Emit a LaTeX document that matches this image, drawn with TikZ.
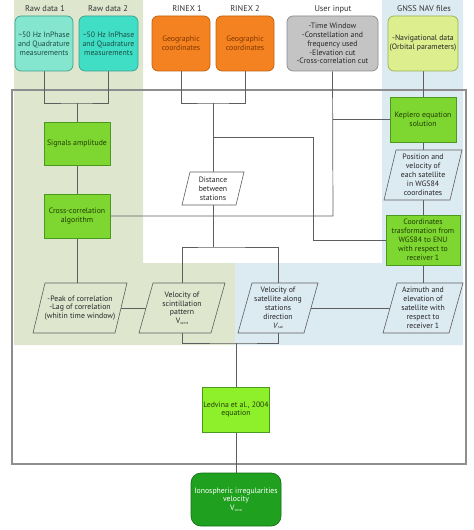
\documentclass[tikz,border=0pt]{standalone}
\usepackage{fontspec}
\setmainfont{PT Sans}
\usetikzlibrary{backgrounds}

\definecolor{greenbg}{HTML}{DFE6CE}
\definecolor{bluebg}{HTML}{DCEAF2}
\definecolor{rawa}{HTML}{84E6CF}
\definecolor{rawb}{HTML}{40DEC4}
\definecolor{rawd}{HTML}{3A9F8C}
\definecolor{rawt}{HTML}{1B4D45}
\definecolor{orf}{HTML}{F58220}
\definecolor{ord}{HTML}{C0600E}
\definecolor{ort}{HTML}{7E3800}
\definecolor{grf}{HTML}{C4C4C4}
\definecolor{grd}{HTML}{8A8A8A}
\definecolor{navf}{HTML}{DCEE8E}
\definecolor{navd}{HTML}{9AB24C}
\definecolor{gbf}{HTML}{7ED630}
\definecolor{gbd}{HTML}{4A9A20}
\definecolor{gbt}{HTML}{1F3D05}
\definecolor{ledf}{HTML}{8EF02A}
\definecolor{ionf}{HTML}{1FA01F}
\definecolor{iond}{HTML}{127012}
\definecolor{conncol}{HTML}{5E5E5E}
\definecolor{framecol}{HTML}{8E8E8E}

\newcommand\fs{\fontsize{7.8}{8.9}\selectfont}
\newcommand\fh{\fontsize{8.4}{10}\selectfont}
\newcommand\sbs[1]{{\fontsize{3.8}{4}\selectfont\raisebox{-0.25ex}{#1}}}

\tikzset{
  conn/.style={draw=conncol, line width=0.7pt},
  head/.style={font=\fh, text=black!80, inner sep=0pt},
  tbox/.style={rounded corners=6bp, line width=0.7pt, align=center, inner sep=1pt,
               minimum height=55bp, font=\fs},
  gbox/.style={draw=gbd, fill=gbf, text=gbt, align=center, inner sep=1pt,
               line width=0.7pt, font=\fs},
  pgtext/.style={align=center, inner sep=0pt, font=\fs, text=black!85},
  pgline/.style={draw=conncol, line width=0.6pt},
}

% name, center, mid-width, height, half slant, fill, text
\newcommand{\pgram}[7]{%
  \begin{scope}[shift={(#2)}]
    \filldraw[pgline, fill=#6] ({-#3/2+#5},{-#4/2}) -- ({#3/2+#5},{-#4/2})
      -- ({#3/2-#5},{#4/2}) -- ({-#3/2-#5},{#4/2}) -- cycle;
  \end{scope}
  \node[pgtext, minimum width=#3bp, minimum height=#4bp] (#1) at (#2) {#7};
}

\begin{document}
\begin{tikzpicture}[x=1bp, y=-1bp]
\useasboundingbox (0,0) rectangle (474,530);

% headings
\node[head] (h1) at (45,9) {Raw data 1};
\node[head] (h2) at (108,9) {Raw data 2};
\node[head] (h3) at (187,9) {RINEX 1};
\node[head] (h4) at (245,9) {RINEX 2};
\node[head] (h5) at (333,9) {User input};
\node[head] (h6) at (424,9) {GNSS NAV files};

% top boxes
\node[tbox, draw=rawd, fill=rawa, text=rawt, minimum width=58bp] (raw1) at (44,43.5)
  {\textasciitilde 50 Hz InPhase\\and Quadrature\\measurements};
\node[tbox, draw=rawd, fill=rawb, text=rawt, minimum width=59bp] (raw2) at (108.5,43.5)
  {\textasciitilde 50 Hz InPhase\\and Quadrature\\measurements};
\node[tbox, draw=ord, fill=orf, text=ort, minimum width=58bp] (rin1) at (181,43.5)
  {Geographic\\coordinates};
\node[tbox, draw=ord, fill=orf, text=ort, minimum width=58bp] (rin2) at (245,43.5)
  {Geographic\\coordinates};
\node[tbox, draw=grd, fill=grf, text=black!85, minimum width=91bp] (user) at (332.5,43.5)
  {-Time Window\\-Constellation and\\frequency used\\-Elevation cut\\-Cross-correlation cut};
\node[tbox, draw=navd, fill=navf, text=black!85, minimum width=70bp] (nav) at (423,43.5)
  {-Navigational data\\(Orbital parameters)};

% process boxes
\node[gbox, minimum width=66bp, minimum height=43bp] (sig) at (77,143.5) {Signals amplitude};
\node[gbox, minimum width=66bp, minimum height=44bp] (cc) at (77,216) {Cross-correlation\\algorithm};
\node[gbox, minimum width=66bp, minimum height=45bp] (kep) at (423,119.5) {Keplero equation\\solution};
\node[gbox, minimum width=74bp, minimum height=50bp] (coord) at (423,240)
  {Coordinates\\trasformation from\\WGS84 to ENU\\with respect to\\receiver 1};
\node[gbox, fill=ledf, minimum width=66bp, minimum height=45bp] (led) at (236,409.5)
  {Ledvina et al., 2004\\equation};
\node[draw=iond, fill=ionf, text=white, rounded corners=10bp, line width=0.7pt, align=center,
      font=\fs, minimum width=90bp, minimum height=53bp, inner sep=1pt] (iono) at (236,499.5)
  {Ionospheric irregularities\\velocity\\V\sbs{iono}};

% parallelograms
\pgram{dist}{213,188.5}{54}{33}{4}{white}{Distance\\between\\stations}
\pgram{pos}{423,175}{66}{50}{6}{bluebg}{Position and\\velocity of\\each satellite\\in WGS84\\coordinates}
\pgram{peak}{80,308}{82}{50}{6}{greenbg}{-Peak of correlation\\-Lag of correlation\\(whitin time window)}
\pgram{vscint}{182,308}{72}{50}{7}{greenbg}{Velocity of\\scintillation\\pattern\\V\sbs{scint}}
\pgram{vsat}{278,308}{66}{50}{7}{bluebg}{Velocity of\\satellite along\\stations\\direction\\\textit{V}\sbs{sat}}
\pgram{azi}{423,308}{66}{50}{7}{bluebg}{Azimuth and\\elevation of\\satellite with\\respect to\\receiver 1}

% junctions
\coordinate (j1) at (77,103);
\coordinate (j2) at (213,103);
\coordinate (j3) at (213,137);
\coordinate (k3) at (313,240);
\coordinate (k2) at (333,216);
\coordinate (j4) at (213,247);
\coordinate (j5) at (236,343);

% backgrounds, frame and connectors
\begin{scope}[on background layer]
\fill[greenbg] (14,0) -- (143,0) -- (143,263) -- (235,263) -- (235,345) -- (14,345) -- cycle;
\fill[bluebg] (382,0) -- (463,0) -- (463,345) -- (235,345) -- (235,263) -- (382,263) -- cycle;
\draw[framecol, line width=1.1pt] (12,90) rectangle (466,464);
\draw[conn] (raw1.south) |- (j1) -| (raw2.south);
\draw[conn] (j1) -- (sig.north);
\draw[conn] (sig.south) -- (cc.north);
\draw[conn] (cc.south) -- (cc.south |- peak.north);
\draw[conn] (peak.east) -- (vscint.west);
\draw[conn] (rin1.south) |- (j2) -| (rin2.south);
\draw[conn] (j2) -- (dist.north);
\draw[conn] (j3) -| (k3) -- (coord.west);
\draw[conn] (user.south) -- (k2) -- (cc.east);
\draw[conn] (kep.west) -- (kep.west -| user.south);
\draw[conn] (nav.south) -- (kep.north);
\draw[conn] (kep.south) -- (pos.north);
\draw[conn] (pos.south) -- (coord.north);
\draw[conn] (coord.south) -- (azi.north);
\draw[conn] (dist.south) -- (j4);
\draw[conn] (vscint.north) |- (j4) -| (vsat.north);
\draw[conn] (vsat.east) -- (azi.west);
\draw[conn] (vscint.south) |- (j5) -| (vsat.south);
\draw[conn] (j5) -- (led.north);
\draw[conn] (led.south) -- (iono.north);
\end{scope}
\end{tikzpicture}
\end{document}
